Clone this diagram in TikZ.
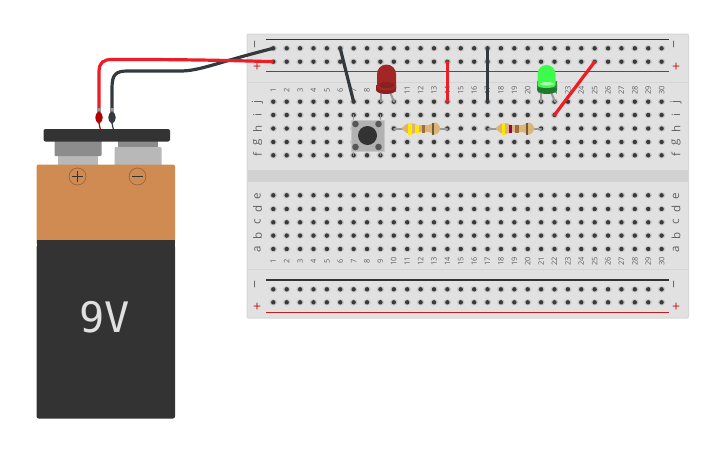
\documentclass[tikz,border=0pt]{standalone}
\usepackage{fontspec}
\setmainfont{Open Sans}
\newfontfamily\ninev{DejaVu Sans Mono}
\definecolor{board}{HTML}{E1E1E1}
\definecolor{boardedge}{HTML}{D6D6D6}
\definecolor{band}{HTML}{D2D2D2}
\definecolor{holering}{HTML}{C6C6C6}
\definecolor{holedot}{HTML}{3A3A3A}
\definecolor{labelgrey}{HTML}{5E5E5E}
\definecolor{railred}{HTML}{C41E1E}
\definecolor{wirered}{HTML}{EE1C25}
\definecolor{wireblack}{HTML}{33393D}
\definecolor{copper}{HTML}{CF8B51}
\definecolor{batdark}{HTML}{333333}
\definecolor{legcol}{HTML}{9A9A9A}
\definecolor{bodyres}{HTML}{DDB475}
\definecolor{ledredA}{HTML}{A32626}
\definecolor{ledredB}{HTML}{8A2020}
\definecolor{ledgreenA}{HTML}{3CFB4C}
\definecolor{ledgreenB}{HTML}{2E8B3A}
\definecolor{ledgreenC}{HTML}{1F7A2E}
\tikzset{
  wirer/.style={draw=wirered,line width=3.2pt,line cap=round},
  wirek/.style={draw=wireblack,line width=3.2pt,line cap=round},
  lead/.style={draw=legcol,line width=2pt,line cap=round},
  num/.style={font=\fontsize{7.5}{8}\selectfont,text=labelgrey,rotate=90,inner sep=0pt},
  rowlab/.style={font=\fontsize{11.5}{12}\selectfont,text=labelgrey,rotate=90,inner sep=0pt},
  sign/.style={font=\fontsize{14}{14}\selectfont,inner sep=0pt},
}
\newcommand{\holeat}[2]{\fill[holering] (#1,#2) ellipse (3.7pt and 3.2pt); \fill[holedot] (#1,#2) circle (2.2pt);}
\begin{document}
\begin{tikzpicture}[x=1pt,y=-1pt]
\useasboundingbox (0,0) rectangle (725,453);
\fill[white] (0,0) rectangle (725,453);
% ---- breadboard
\fill[boardedge,rounded corners=2pt] (246.5,33.5) rectangle (689,318.5);
\fill[board,rounded corners=2pt] (247.5,34.5) rectangle (688,317.5);
\fill[band] (247.5,170) rectangle (688,182);
\draw[boardedge,line width=.8pt] (247.5,82) -- (688,82);
\draw[boardedge,line width=.8pt] (247.5,269) -- (688,269);
\draw[black!80,line width=1.2pt] (266,39.5) -- (669,39.5);
\draw[railred,line width=1.2pt] (266,71.5) -- (669,71.5);
\draw[black!80,line width=1.2pt] (266,280) -- (669,280);
\draw[railred,line width=1.2pt] (266,312.5) -- (669,312.5);
% holes
\foreach \c in {0,...,29}{
  \pgfmathsetmacro{\xx}{273.3+13.39*\c}
  \foreach \y in {48.3,61.7,101.7,115,128.5,142,155.3,195.3,209,222.3,235.6,249,289.3,302.3}{\holeat{\xx}{\y}}
  \pgfmathtruncatemacro{\lab}{\c+1}
  \node[num] (nt\lab) at (\xx,90) {\lab};
  \node[num] (nb\lab) at (\xx,261) {\lab};
}
% row letters
\foreach \t/\y in {j/102,i/115,h/129,g/142,f/155,e/196,d/209,c/222,b/236,a/249}{
  \node[rowlab] (l\t) at (257.5,\y) {\t};
  \node[rowlab] (r\t) at (676,\y) {\t};
}
% rail signs
\node[sign,text=labelgrey,rotate=90] (s1) at (257,44) {\textminus};
\node[sign,text=railred]   (s2) at (257,67) {+};
\node[sign,text=labelgrey,rotate=90] (s3) at (676,44) {\textminus};
\node[sign,text=railred]   (s4) at (676,67.5) {+};
\node[sign,text=labelgrey,rotate=90] (s5) at (257,284) {\textminus};
\node[sign,text=railred]   (s6) at (257,307.5) {+};
\node[sign,text=labelgrey,rotate=90] (s7) at (676,284) {\textminus};
\node[sign,text=railred]   (s8) at (676,307.5) {+};
% ---- coordinates for connector ends
\coordinate (blackA) at (340.2,48.3);
\coordinate (blackB) at (353.6,101.7);
\coordinate (redA) at (447.4,61.7);
\coordinate (redB) at (447.4,101.7);
\coordinate (blackC) at (487.5,48.3);
\coordinate (blackD) at (487.5,101.7);
\coordinate (redC) at (594.7,61.7);
\coordinate (redD) at (554.5,115);
\coordinate (railM) at (273.3,48.3);
\coordinate (railP) at (273.3,61.7);
\coordinate (clipP) at (99,117);
\coordinate (clipM) at (112,117);
% ---- jumpers
\draw[wirek] (blackA) -- (blackB);
\draw[wirer] (redA) -- (redB);
\draw[wirek] (blackC) -- (blackD);
\draw[wirer] (redC) -- (redD);
% ---- push button
\draw[lead,line width=1.6pt] (353.6,115) -- (353.6,155.3);
\draw[lead,line width=1.6pt] (380.4,115) -- (380.4,155.3);
\fill[draw=black!22,fill=black!30,line width=.6pt] (351.5,120) rectangle (384,151.5);
\fill[holedot!85!white] (355.5,124) circle (3.3pt) (378.5,124) circle (3.3pt) (355.5,147) circle (3.3pt) (378.5,147) circle (3.3pt);
\node[circle,fill=batdark,minimum size=19pt,inner sep=0pt] (btn) at (367.5,135.5) {};
% ---- resistor 1
\draw[lead] (394,128.5) -- (447.4,128.5);
\fill[bodyres,rounded corners=1.5pt] (401,128.5) -- (408,123) -- (413,123) -- (416,125) -- (430,125) -- (433,122.5) -- (437,122.5) -- (441,128.5) -- (437,134.5) -- (433,134.5) -- (430,132) -- (416,132) -- (413,134) -- (408,134) -- cycle;
\fill[yellow!95!red] (408,122.5) rectangle (411.5,135);
\fill[yellow!95!red] (415,124.5) rectangle (418.5,132.5);
\fill[brown!85!black] (421.5,124.5) rectangle (425,132.5);
\fill[black!50!bodyres] (432,123) rectangle (433.5,135);
% ---- resistor 2
\draw[lead] (488,128.5) -- (541,128.5);
\fill[bodyres,rounded corners=1.5pt] (495,128.5) -- (502,123) -- (507,123) -- (510,125) -- (524,125) -- (527,122.5) -- (531,122.5) -- (535,128.5) -- (531,134.5) -- (527,134.5) -- (524,132) -- (510,132) -- (507,134) -- (502,134) -- cycle;
\fill[yellow!95!red] (501.5,122.5) rectangle (505,135);
\fill[violet!80!red] (508.5,124.5) rectangle (512,132.5);
\fill[brown!85!black] (515,124.5) rectangle (519,132.5);
\fill[black!50!bodyres] (526,123) rectangle (527.5,135);
% ---- red LED
\draw[lead] (380.6,92) -- (380.6,101.7);
\draw[lead] (390,92) -- (394,101.7);
\fill[ledredB] (376,85) -- (376,90) arc[start angle=180,end angle=360,x radius=10pt,y radius=4pt] -- (396,85) -- cycle;
\fill[ledredA] (377,87) -- (377,74) arc[start angle=180,end angle=0,x radius=9.5pt,y radius=9.5pt] -- (396,87) arc[start angle=0,end angle=-180,x radius=9.5pt,y radius=3.5pt] -- cycle;
\fill[ledredB] (378.5,85) arc[start angle=180,end angle=0,x radius=8pt,y radius=3pt] arc[start angle=0,end angle=-180,x radius=8pt,y radius=3pt] -- cycle;
% ---- green LED
\draw[lead] (541,92) -- (541,101.7);
\draw[lead] (551,92) -- (555,101.7);
\fill[ledgreenC] (537,84) -- (537,90) arc[start angle=180,end angle=360,x radius=10pt,y radius=4pt] -- (557,84) -- cycle;
\fill[ledgreenB] (537,81) rectangle (557,87.5);
\fill[ledgreenA] (537.5,85) -- (537.5,74) arc[start angle=180,end angle=0,x radius=9pt,y radius=9pt] -- (555.5,85) arc[start angle=0,end angle=-180,x radius=9pt,y radius=3pt] -- cycle;
\fill[green!35!white] (540,84) arc[start angle=180,end angle=0,x radius=7pt,y radius=2pt] arc[start angle=0,end angle=-180,x radius=7pt,y radius=1.5pt] -- cycle;
% ---- battery wires
\draw[wirek,line cap=butt] (clipM) -- (112,88) .. controls (112,74) and (116,71) .. (128,71) -- (180,71) .. controls (200,71) and (215,63) .. (railM);
\draw[wirer,line cap=butt] (clipP) -- (99,72) .. controls (99,62) and (104,59.5) .. (112,59.5) .. controls (160,59.3) and (220,60) .. (railP);
\fill[legcol] (97.5,108) rectangle (100.5,113);
\fill[legcol] (110.5,108) rectangle (113.5,113);
\fill[red!70!black] (99,111) .. controls (104,114) and (104,121) .. (99,124) .. controls (94,121) and (94,114) .. (99,111) -- cycle;
\fill[wireblack] (112,111) .. controls (117,114) and (117,121) .. (112,124) .. controls (107,121) and (107,114) .. (112,111) -- cycle;
\draw[red!70!black,line width=1.2pt] (99,123) -- (100.5,130);
\draw[wireblack,line width=1.2pt] (112,123) -- (113.5,130);
% ---- battery
\fill[black!28] (57.5,154) rectangle (98,166);
\fill[black!45,rounded corners=1pt] (54.5,140) rectangle (101.5,156);
\fill[black!45] (118,140) rectangle (158,148);
\fill[black!28,rounded corners=1pt] (114.5,147) rectangle (161.5,166);
\fill[batdark,rounded corners=2pt] (43.5,129) rectangle (170,141.5);
\fill[copper,rounded corners=2pt] (36.5,164.5) rectangle (175,245);
\fill[batdark,rounded corners=2pt] (36.5,245) rectangle (175,418.5);
\fill[batdark] (36.5,240) rectangle (175,250);
\node[circle,draw=black!30!copper,line width=.6pt,minimum size=17pt,inner sep=0pt] (plus) at (77.5,176.5) {};
\node[circle,draw=black!30!copper,line width=.6pt,minimum size=17pt,inner sep=0pt] (minus) at (137.5,176.5) {};
\draw[batdark,line width=1.4pt] (72,176.5) -- (83,176.5) (77.5,171) -- (77.5,182);
\draw[batdark,line width=1.4pt] (132,176.5) -- (143,176.5);
\node[font=\ninev\fontsize{42}{42}\selectfont,text=black!12,inner sep=0pt] (nine) at (105,317) {9V};
\end{tikzpicture}
\end{document}
